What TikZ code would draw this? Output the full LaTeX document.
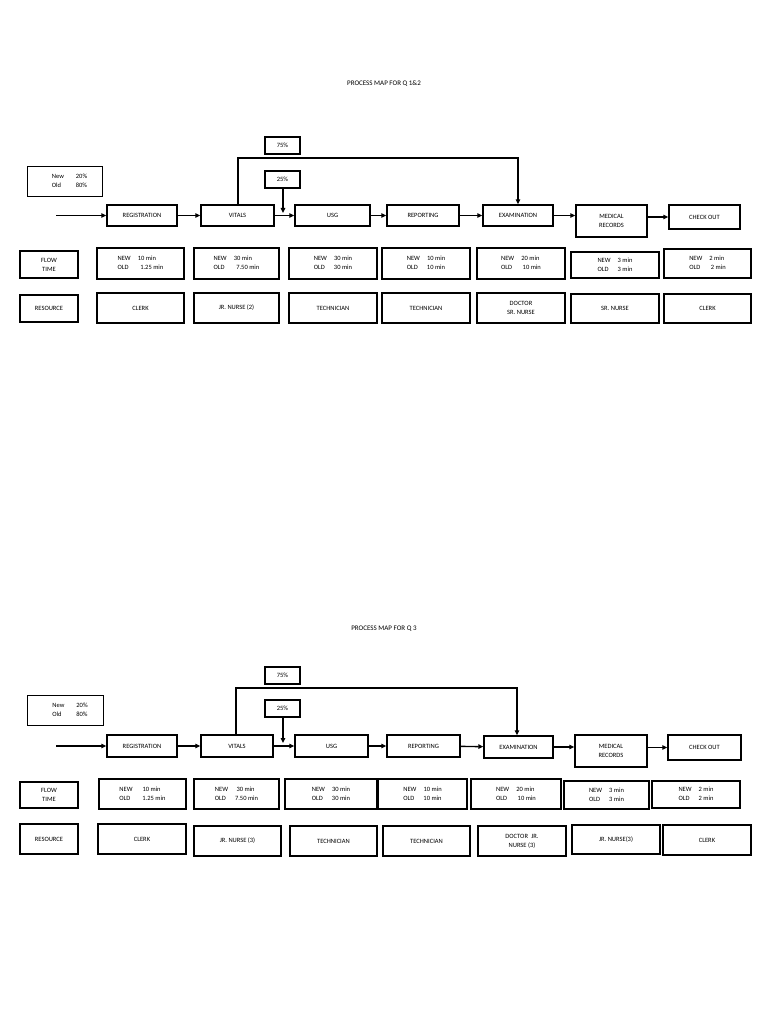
\documentclass[tikz,border=0pt]{standalone}
\usepackage{fontspec}
\setmainfont{Carlito}
\usetikzlibrary{arrows.meta}
\tikzset{
 bx/.style={draw,line width=1.4pt,minimum height=#1,inner sep=0pt,align=center,font=\fontsize{6.5}{9}\selectfont},
 bx/.default=21pt,
 thn/.style={draw,line width=0.8pt,inner sep=0pt,align=left,font=\fontsize{6.5}{9}\selectfont},
 arr/.style={line width=1.4pt,-{Triangle[length=5pt,width=4.5pt]}},
 ttl/.style={font=\fontsize{7}{9}\selectfont}
}
\newcommand{\mybox}[6]{% name, x1, y1, x2, y2, text
 \node[bx=#5pt-#3pt, minimum width=#4pt-#2pt] (#1) at ({(#2+#4)/2},{(#3+#5)/2}) {#6};}
\newcommand{\nt}[2]{\begin{tabular}{@{}l@{\hspace{7pt}}l@{}}NEW & #1\\OLD & #2\end{tabular}}
\begin{document}
\begin{tikzpicture}[x=1pt,y=-1pt]
\useasboundingbox (0,0) rectangle (768,1024);
% ---------- map 1
\node[ttl] (t1) at (384,84) {PROCESS MAP FOR Q 1\&2};
\node[thn,minimum width=75pt,minimum height=30pt] (no1) at (64.5,181) {\hspace{10pt}\begin{tabular}{@{}l@{\hspace{12pt}}l@{}}New & 20\%\\Old & 80\%\end{tabular}};
\mybox{p75a}{265}{137}{300}{154}{75\%}
\mybox{p25a}{265}{171}{300}{188}{25\%}
\mybox{rega}{107}{205}{177}{226}{REGISTRATION}
\mybox{vita}{201}{205}{274}{226}{VITALS}
\mybox{usga}{295}{205}{370}{226}{USG}
\mybox{repa}{387}{205}{459}{226}{REPORTING}
\mybox{exaa}{483}{205}{553}{226}{EXAMINATION}
\mybox{meda}{576}{205}{647}{237}{MEDICAL\\RECORDS}
\mybox{chka}{669}{205}{740}{229}{CHECK OUT}
\coordinate (ina) at (56,215.5);
\draw[arr] (ina) -- (rega.west|-ina);
\draw[arr] (rega) -- (vita);
\draw[arr] (vita) -- (usga);
\draw[arr] (usga.east) -- (repa.west|-usga.east);
\draw[arr] (repa) -- (exaa);
\draw[arr] (exaa.east) -- (meda.west|-exaa.east);
\draw[arr] (meda.east|-chka) -- (chka);
\draw[arr] (p25a.south-|283,0) -- (283,213);
\draw[line width=1.4pt,-{Triangle[length=5pt,width=4.5pt]}] (vita.north-|238,0) |- (518,158) -- (exaa.north-|518,0);
\mybox{fla}{20}{251}{78}{278}{FLOW\\TIME}
\mybox{f1a}{97}{248}{184}{279}{\nt{10 min}{\ \,1.25 min}}
\mybox{f2a}{194}{248}{279}{279}{\nt{30 min}{\ \,7.50 min}}
\mybox{f3a}{289}{248}{377}{279}{\nt{30 min}{30 min}}
\mybox{f4a}{382}{248}{470}{279}{\nt{10 min}{10 min}}
\mybox{f5a}{477}{248}{565}{279}{\nt{20 min}{\ 10 min}}
\mybox{f6a}{571}{252}{659}{278}{\nt{3 min}{3 min}}
\mybox{f7a}{664}{249}{751}{278}{\nt{2 min}{\ 2 min}}
\mybox{rsa}{20}{295}{78}{322}{RESOURCE}
\mybox{r1a}{97}{293}{184}{323}{CLERK}
\mybox{r2a}{194}{293}{279}{323}{JR. NURSE (2)}
\mybox{r3a}{289}{293}{377}{323}{TECHNICIAN}
\mybox{r4a}{382}{293}{470}{323}{TECHNICIAN}
\mybox{r5a}{477}{293}{565}{323}{DOCTOR\\SR. NURSE}
\mybox{r6a}{571}{294}{659}{323}{SR. NURSE}
\mybox{r7a}{664}{294}{751}{323}{CLERK}
% ---------- map 2
\node[ttl] (t2) at (384,629) {PROCESS MAP FOR Q 3};
\node[thn,minimum width=76pt,minimum height=30pt] (no2) at (65,710) {\hspace{10pt}\begin{tabular}{@{}l@{\hspace{12pt}}l@{}}New & 20\%\\Old & 80\%\end{tabular}};
\mybox{p75b}{265}{667}{300}{684}{75\%}
\mybox{p25b}{265}{700}{300}{717}{25\%}
\mybox{regb}{107}{735}{177}{757}{REGISTRATION}
\mybox{vitb}{201}{735}{273}{757}{VITALS}
\mybox{usgb}{295}{735}{368}{757}{USG}
\mybox{repb}{387}{735}{460}{757}{REPORTING}
\mybox{exab}{484}{736}{553}{758}{EXAMINATION}
\mybox{medb}{575}{735}{647}{767}{MEDICAL\\RECORDS}
\mybox{chkb}{668}{735}{741}{760}{CHECK OUT}
\coordinate (inb) at (56,746);
\draw[arr] (inb) -- (regb.west|-inb);
\draw[arr] (regb) -- (vitb);
\draw[arr] (vitb) -- (usgb);
\draw[arr] (usgb.east) -- (repb.west|-usgb.east);
\draw[arr] (repb) -- (exab);
\draw[arr] (exab.east) -- (medb.west|-exab.east);
\draw[arr] (medb.east|-chkb) -- (chkb);
\draw[arr] (p25b.south-|283,0) -- (283,743);
\draw[line width=1.4pt,-{Triangle[length=5pt,width=4.5pt]}] (vitb.north-|236,0) |- (517,688) -- (exab.north-|517,0);
\mybox{flb}{20}{782}{78}{808}{FLOW\\TIME}
\mybox{f1b}{99}{779}{186}{809}{\nt{\ \ 10 min}{\ \ 1.25 min}}
\mybox{f2b}{194}{779}{279}{809}{\nt{\ 30 min}{7.50 min}}
\mybox{f3b}{285}{779}{377}{809}{\nt{30 min}{30 min}}
\mybox{f4b}{378}{779}{467}{809}{\nt{10 min}{10 min}}
\mybox{f5b}{471}{779}{561}{809}{\nt{20 min}{\ 10 min}}
\mybox{f6b}{564}{781}{649}{809}{\nt{3 min}{3 min}}
\mybox{f7b}{652}{781}{740}{808}{\nt{2 min}{2 min}}
\mybox{rsb}{20}{824}{78}{854}{RESOURCE}
\mybox{r1b}{98}{824}{186}{854}{CLERK}
\mybox{r2b}{194}{826}{281}{856}{JR. NURSE (3)}
\mybox{r3b}{290}{826}{377}{856}{TECHNICIAN}
\mybox{r4b}{383}{826}{470}{856}{TECHNICIAN}
\mybox{r5b}{478}{826}{566}{856}{DOCTOR\enspace JR.\\NURSE (3)}
\mybox{r6b}{572}{825}{660}{854}{JR. NURSE(3)}
\mybox{r7b}{663}{825}{751}{855}{CLERK}
\end{tikzpicture}
\end{document}
